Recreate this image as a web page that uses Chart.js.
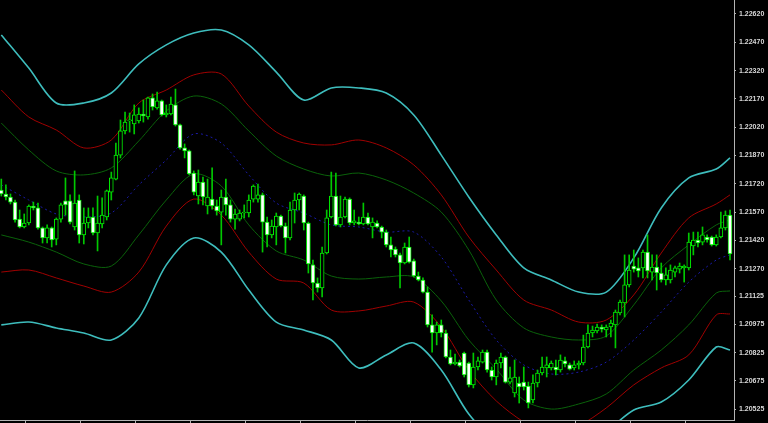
<!DOCTYPE html>
<html>
<head>
<meta charset="utf-8">
<title>EURUSD bands</title>
<script src="https://cdn.jsdelivr.net/npm/chart.js@4.4.1/dist/chart.umd.min.js"></script>
<style>
    html, body { margin: 0; padding: 0; background: #000; }
    canvas { display: block; }
</style>
</head>
<body>
<canvas id="priceChart" width="768" height="423"></canvas>
<script>
// Candles (bar index 0..159)
var opens = [1.21687,1.21666,1.21650,1.21623,1.21533,1.21491,1.21512,1.21602,1.21592,1.21486,
    1.21433,1.21486,1.21427,1.21533,1.21629,1.21629,1.21491,1.21634,1.21449,1.21512,
    1.21544,1.21459,1.21507,1.21544,1.21676,1.21745,1.21872,1.22000,1.22053,1.22037,
    1.22053,1.22090,1.22074,1.22175,1.22122,1.22159,1.22085,1.22090,1.22138,1.22032,
    1.21910,1.21894,1.21777,1.21655,1.21729,1.21602,1.21639,1.21602,1.21570,1.21650,
    1.21608,1.21533,1.21533,1.21565,1.21565,1.21639,1.21639,1.21661,1.21517,1.21449,
    1.21491,1.21549,1.21496,1.21433,1.21581,1.21634,1.21655,1.21512,1.21290,1.21194,
    1.21168,1.21353,1.21544,1.21655,1.21502,1.21544,1.21639,1.21512,1.21517,1.21507,
    1.21544,1.21491,1.21512,1.21491,1.21464,1.21396,1.21374,1.21343,1.21300,1.21385,
    1.21311,1.21231,1.21210,1.21146,1.20972,1.20929,1.20972,1.20929,1.20802,1.20765,
    1.20775,1.20823,1.20770,1.20654,1.20749,1.20775,1.20828,1.20733,1.20696,1.20770,
    1.20802,1.20669,1.20611,1.20664,1.20669,1.20648,1.20574,1.20664,1.20717,1.20744,
    1.20744,1.20749,1.20733,1.20781,1.20760,1.20744,1.20760,1.20770,1.20855,1.20929,
    1.20940,1.20961,1.20945,1.20961,1.20972,1.21035,1.21088,1.21184,1.21284,1.21274,
    1.21274,1.21358,1.21252,1.21279,1.21247,1.21210,1.21210,1.21252,1.21268,1.21274,
    1.21274,1.21390,1.21422,1.21411,1.21438,1.21438,1.21396,1.21438,1.21486,1.21554];
var highs = [1.21745,1.21714,1.21666,1.21634,1.21581,1.21560,1.21608,1.21623,1.21618,1.21491,
    1.21502,1.21491,1.21539,1.21618,1.21751,1.21661,1.21788,1.21661,1.21592,1.21592,
    1.21592,1.21655,1.21645,1.21687,1.21782,1.21936,1.22058,1.22100,1.22095,1.22138,
    1.22122,1.22164,1.22180,1.22196,1.22206,1.22164,1.22138,1.22180,1.22222,1.22037,
    1.21931,1.21899,1.21788,1.21793,1.21756,1.21745,1.21804,1.21634,1.21687,1.21745,
    1.21634,1.21586,1.21581,1.21608,1.21661,1.21714,1.21719,1.21671,1.21544,1.21528,
    1.21565,1.21554,1.21512,1.21623,1.21671,1.21671,1.21661,1.21517,1.21316,1.21221,
    1.21385,1.21581,1.21782,1.21777,1.21655,1.21650,1.21645,1.21581,1.21544,1.21618,
    1.21565,1.21539,1.21523,1.21496,1.21475,1.21438,1.21385,1.21353,1.21406,1.21438,
    1.21321,1.21252,1.21221,1.21173,1.21025,1.20987,1.20998,1.20945,1.20839,1.20818,
    1.20786,1.20828,1.20775,1.20823,1.20802,1.20839,1.20839,1.20749,1.20786,1.20823,
    1.20807,1.20749,1.20786,1.20696,1.20749,1.20669,1.20707,1.20733,1.20802,1.20802,
    1.20781,1.20786,1.20813,1.20802,1.20770,1.20781,1.20781,1.20918,1.20972,1.20966,
    1.20977,1.20972,1.20972,1.20998,1.21051,1.21104,1.21343,1.21343,1.21369,1.21327,
    1.21369,1.21449,1.21343,1.21343,1.21300,1.21274,1.21290,1.21284,1.21300,1.21290,
    1.21459,1.21464,1.21464,1.21491,1.21449,1.21443,1.21449,1.21570,1.21576,1.21581];
var lows = [1.21655,1.21634,1.21613,1.21517,1.21486,1.21486,1.21502,1.21581,1.21480,1.21406,
    1.21406,1.21385,1.21396,1.21517,1.21554,1.21507,1.21475,1.21406,1.21401,1.21486,
    1.21449,1.21364,1.21486,1.21528,1.21634,1.21740,1.21857,1.21984,1.21994,1.21984,
    1.22042,1.22047,1.22063,1.22111,1.22116,1.22079,1.22074,1.22085,1.22026,1.21904,
    1.21857,1.21767,1.21661,1.21613,1.21608,1.21560,1.21586,1.21554,1.21396,1.21554,
    1.21517,1.21480,1.21523,1.21539,1.21544,1.21623,1.21623,1.21358,1.21385,1.21433,
    1.21396,1.21491,1.21353,1.21422,1.21512,1.21581,1.21475,1.21247,1.21104,1.21146,
    1.21120,1.21348,1.21539,1.21496,1.21491,1.21539,1.21502,1.21502,1.21502,1.21502,
    1.21502,1.21433,1.21486,1.21433,1.21385,1.21332,1.21332,1.21168,1.21295,1.21300,
    1.21226,1.21205,1.21141,1.20961,1.20828,1.20866,1.20908,1.20797,1.20760,1.20760,
    1.20749,1.20696,1.20643,1.20638,1.20733,1.20770,1.20722,1.20680,1.20654,1.20744,
    1.20664,1.20659,1.20590,1.20558,1.20627,1.20532,1.20558,1.20643,1.20707,1.20696,
    1.20733,1.20707,1.20722,1.20749,1.20733,1.20733,1.20738,1.20760,1.20850,1.20908,
    1.20929,1.20934,1.20908,1.20908,1.20850,1.21025,1.21014,1.21173,1.21252,1.21226,
    1.21221,1.21221,1.21210,1.21157,1.21199,1.21184,1.21194,1.21226,1.21247,1.21199,
    1.21263,1.21343,1.21385,1.21396,1.21411,1.21390,1.21390,1.21433,1.21475,1.21316];
var closes = [1.21666,1.21650,1.21623,1.21528,1.21491,1.21512,1.21602,1.21592,1.21486,1.21433,
    1.21486,1.21422,1.21533,1.21608,1.21608,1.21517,1.21618,1.21449,1.21512,1.21544,
    1.21459,1.21512,1.21554,1.21682,1.21751,1.21872,1.22000,1.22047,1.22058,1.22085,
    1.22090,1.22079,1.22175,1.22127,1.22159,1.22085,1.22095,1.22143,1.22032,1.21910,
    1.21894,1.21772,1.21676,1.21729,1.21650,1.21650,1.21602,1.21576,1.21650,1.21608,
    1.21533,1.21560,1.21565,1.21570,1.21634,1.21708,1.21661,1.21517,1.21449,1.21496,
    1.21549,1.21496,1.21433,1.21581,1.21634,1.21666,1.21512,1.21295,1.21194,1.21168,
    1.21353,1.21539,1.21655,1.21502,1.21544,1.21639,1.21512,1.21523,1.21507,1.21544,
    1.21507,1.21517,1.21491,1.21464,1.21396,1.21369,1.21343,1.21300,1.21385,1.21305,
    1.21231,1.21210,1.21146,1.20972,1.20929,1.20972,1.20929,1.20802,1.20765,1.20775,
    1.20754,1.20707,1.20654,1.20749,1.20781,1.20828,1.20733,1.20696,1.20770,1.20802,
    1.20669,1.20691,1.20696,1.20643,1.20643,1.20558,1.20664,1.20717,1.20749,1.20760,
    1.20770,1.20733,1.20786,1.20765,1.20738,1.20760,1.20770,1.20855,1.20929,1.20945,
    1.20961,1.20950,1.20961,1.20982,1.21040,1.21093,1.21184,1.21263,1.21268,1.21258,
    1.21358,1.21258,1.21279,1.21247,1.21210,1.21237,1.21263,1.21274,1.21284,1.21284,
    1.21411,1.21422,1.21406,1.21449,1.21422,1.21396,1.21438,1.21486,1.21554,1.21348];

// Band lines, read every 6 bars
var bandBars = [0,6,12,18,24,30,36,42,48,54,60,66,72,78,84,90,96,102,108,114,120,126,132,138,144,150,156,159];
var midLine = [1.21714,1.21634,1.21560,1.21544,1.21565,1.21714,1.21846,1.21984,1.21936,1.21767,
    1.21618,1.21565,1.21502,1.21491,1.21464,1.21464,1.21332,1.21104,1.20892,1.20760,
    1.20712,1.20722,1.20775,1.20892,1.21040,1.21199,1.21316,1.21343];
var greenUpper = [1.22042,1.21899,1.21788,1.21767,1.21804,1.21947,1.22106,1.22185,1.22143,1.22000,
    1.21867,1.21798,1.21761,1.21777,1.21740,1.21671,1.21570,1.21369,1.21104,1.20956,
    1.20908,1.20892,1.20913,1.21078,1.21274,1.21396,1.21502,1.21528];
var greenLower = [1.21449,1.21411,1.21358,1.21295,1.21284,1.21449,1.21634,1.21772,1.21708,1.21502,
    1.21364,1.21316,1.21231,1.21215,1.21226,1.21226,1.21099,1.20892,1.20738,1.20574,
    1.20526,1.20553,1.20606,1.20733,1.20839,1.20972,1.21141,1.21152];
var redUpper = [1.22217,1.22074,1.22005,1.21910,1.21952,1.22148,1.22217,1.22297,1.22302,1.22132,
    1.21994,1.21936,1.21926,1.21952,1.21910,1.21820,1.21661,1.21438,1.21263,1.21104,
    1.21051,1.20987,1.20998,1.21131,1.21353,1.21539,1.21613,1.21661];
var redLower = [1.21252,1.21263,1.21221,1.21178,1.21146,1.21252,1.21496,1.21639,1.21554,1.21358,
    1.21215,1.21194,1.21051,1.21046,1.21072,1.21093,1.20961,1.20733,1.20569,1.20457,
    1.20383,1.20436,1.20532,1.20654,1.20744,1.20813,1.21025,1.21030];
var cyanUpper = [1.22509,1.22333,1.22148,1.22148,1.22201,1.22355,1.22456,1.22519,1.22535,1.22456,
    1.22312,1.22164,1.22228,1.22228,1.22201,1.22085,1.21872,1.21650,1.21449,1.21274,
    1.21210,1.21146,1.21146,1.21327,1.21592,1.21751,1.21798,1.21857];
var cyanLower = [1.20972,1.20987,1.20956,1.20929,1.20892,1.21009,1.21290,1.21433,1.21358,1.21157,
    1.20987,1.20945,1.20892,1.20744,1.20813,1.20876,1.20733,1.20500,1.20357,1.20298,
    1.20224,1.20288,1.20404,1.20521,1.20563,1.20680,1.20855,1.20839];

// Axis
var priceTicks = [1.22620,1.22470,1.22320,1.22170,1.22020,1.21870,1.21720,1.21570,
    1.21420,1.21270,1.21125,1.20975,1.20825,1.20675,1.20525];
var timeTickBars = [11.2,23.2,35.2,47.2,59.2,71.2,83.2,95.2,107.2,119.2,131.2,143.2,155.2];

var bars = opens.map(function(o, i) { return i; });
var wickData = bars.map(function(i) { return { x: i, y: [lows[i], highs[i]] }; });
var bodyData = bars.map(function(i) { return { x: i, y: [opens[i], closes[i]] }; });
var bodyFill = bars.map(function(i) { return closes[i] >= opens[i] ? '#000000' : '#ffffff'; });

function band(values) {
    return values.map(function(v, k) { return { x: bandBars[k], y: v }; });
}

function lineSet(values, color, width, order, dash) {
    return {
        type: 'line',
        data: band(values),
        borderColor: color,
        borderWidth: width,
        borderDash: dash || [],
        pointRadius: 0,
        tension: 0.3,
        fill: false,
        order: order
    };
}

var ctx = document.getElementById('priceChart').getContext('2d');
var priceChart = new Chart(ctx, {
    type: 'bar',
    data: {
        datasets: [
            {
                data: bodyData,
                backgroundColor: bodyFill,
                borderColor: '#00f000',
                borderWidth: 1,
                borderSkipped: false,
                barThickness: 4,
                minBarLength: 1,
                grouped: false,
                order: 0
            },
            {
                data: wickData,
                backgroundColor: '#00c800',
                borderWidth: 0,
                barThickness: 1,
                grouped: false,
                order: 1
            },
            lineSet(midLine, '#1a1aa8', 1, 2, [2, 3]),
            lineSet(greenUpper, '#0a620a', 1, 3),
            lineSet(greenLower, '#0a620a', 1, 3),
            lineSet(redUpper, '#a00000', 1, 4),
            lineSet(redLower, '#a00000', 1, 4),
            lineSet(cyanUpper, '#3ebdbd', 1.6, 5),
            lineSet(cyanLower, '#3ebdbd', 1.6, 5)
        ]
    },
    options: {
        responsive: false,
        animation: false,
        devicePixelRatio: 1,
        layout: { padding: 0 },
        plugins: {
            legend: { display: false },
            tooltip: { enabled: false }
        },
        scales: {
            x: {
                type: 'linear',
                offset: false,
                min: -0.284,
                max: 159.87,
                afterBuildTicks: function(scale) {
                    scale.ticks = timeTickBars.map(function(v) { return { value: v }; });
                },
                afterFit: function(scale) {
                    scale.height = 3;
                    scale.paddingLeft = 0;
                    scale.paddingRight = 0;
                },
                ticks: { display: false },
                grid: {
                    drawOnChartArea: false,
                    drawTicks: true,
                    tickLength: 3,
                    color: '#b4b4b4'
                },
                border: { display: true, color: '#b4b4b4', width: 1 }
            },
            y: {
                type: 'linear',
                position: 'right',
                min: 1.20468,
                max: 1.22694,
                afterBuildTicks: function(scale) {
                    scale.ticks = priceTicks.map(function(v) { return { value: v }; });
                },
                afterFit: function(scale) {
                    scale.width = 34;
                    scale.paddingTop = 0;
                    scale.paddingBottom = 0;
                },
                ticks: {
                    color: '#d8d8d8',
                    padding: 3,
                    font: { family: "'Liberation Sans', Arial, sans-serif", size: 7, weight: 'bold' },
                    callback: function(v) { return Number(v).toFixed(5); }
                },
                grid: {
                    drawOnChartArea: false,
                    drawTicks: true,
                    tickLength: 2,
                    color: '#b4b4b4'
                },
                border: { display: true, color: '#b4b4b4', width: 1 }
            }
        }
    }
});
</script>
</body>
</html>
